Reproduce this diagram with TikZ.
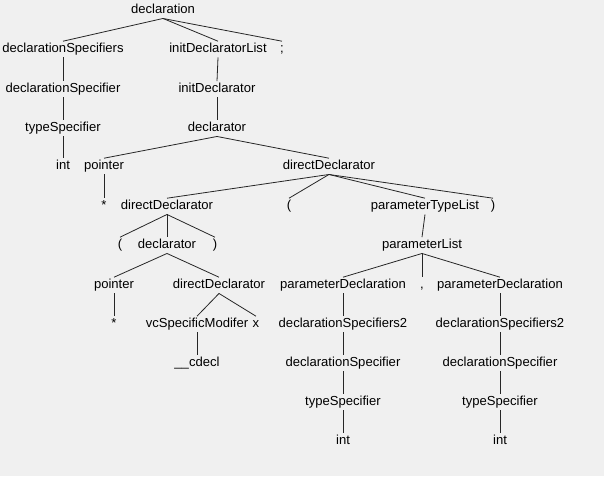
\documentclass[tikz,border=0pt]{standalone}
\usepackage{fontspec}
\setmainfont{Liberation Sans}
\begin{document}
\begin{tikzpicture}[x=0.75pt,y=-0.75pt,
  every node/.style={font=\fontsize{9.8}{11}\selectfont,inner sep=1pt,text height=7.6pt,text depth=2.2pt},
  e/.style={draw=black!85,line width=0.6pt}]
\fill[black!6] (0,0) rectangle (604,476);
\useasboundingbox (0,0) rectangle (604,476);
\begin{scope}[yshift=-1pt]
\node (a) at (163,9) {declaration};
\node (b1) at (63,48) {declarationSpecifiers};
\node (b2) at (218,48) {initDeclaratorList};
\node (b3) at (282,48) {;};
\node (c1) at (63,88) {declarationSpecifier};
\node (c2) at (217,88) {initDeclarator};
\node (d1) at (63,127) {typeSpecifier};
\node (d2) at (217,127) {declarator};
\node (e1) at (63,165) {int};
\node (e2) at (104,165) {pointer};
\node (e3) at (329,165) {directDeclarator};
\node (f1) at (104,205) {*};
\node (f2) at (167,205) {directDeclarator};
\node (f3) at (289,205) {(};
\node (f4) at (425,205) {parameterTypeList};
\node (f5) at (493,205) {)};
\node (g1) at (120,244) {(};
\node (g2) at (167,244) {declarator};
\node (g3) at (215,244) {)};
\node (g4) at (422,244) {parameterList};
\node (h1) at (114,284) {pointer};
\node (h2) at (219,284) {directDeclarator};
\node (h3) at (343,284) {parameterDeclaration};
\node (h4) at (422,284) {,};
\node (h5) at (500,284) {parameterDeclaration};
\node (i1) at (114,323) {*};
\node (i2) at (197,323) {vcSpecificModifer};
\node (i3) at (256,323) {x};
\node (i4) at (343,323) {declarationSpecifiers2};
\node (i5) at (500,323) {declarationSpecifiers2};
\node (j1) at (197,362) {\_\_cdecl};
\node (j2) at (343,362) {declarationSpecifier};
\node (j3) at (500,362) {declarationSpecifier};
\node (k1) at (343,401) {typeSpecifier};
\node (k2) at (500,401) {typeSpecifier};
\node (l1) at (343,440) {int};
\node (l2) at (500,440) {int};
\end{scope}
\foreach \p/\c in {a/b1,a/b2,a/b3,b1/c1,b2/c2,c1/d1,c2/d2,d1/e1,d2/e2,d2/e3,e2/f1,e3/f2,e3/f3,e3/f4,e3/f5,
  f2/g1,f2/g2,f2/g3,f4/g4,g2/h1,g2/h2,g4/h3,g4/h4,g4/h5,h1/i1,h2/i2,h2/i3,h3/i4,h5/i5,i2/j1,i4/j2,i5/j3,j2/k1,j3/k2,k1/l1,k2/l2}
  \draw[e] (\p.south) -- (\c.north);
\end{tikzpicture}
\end{document}
